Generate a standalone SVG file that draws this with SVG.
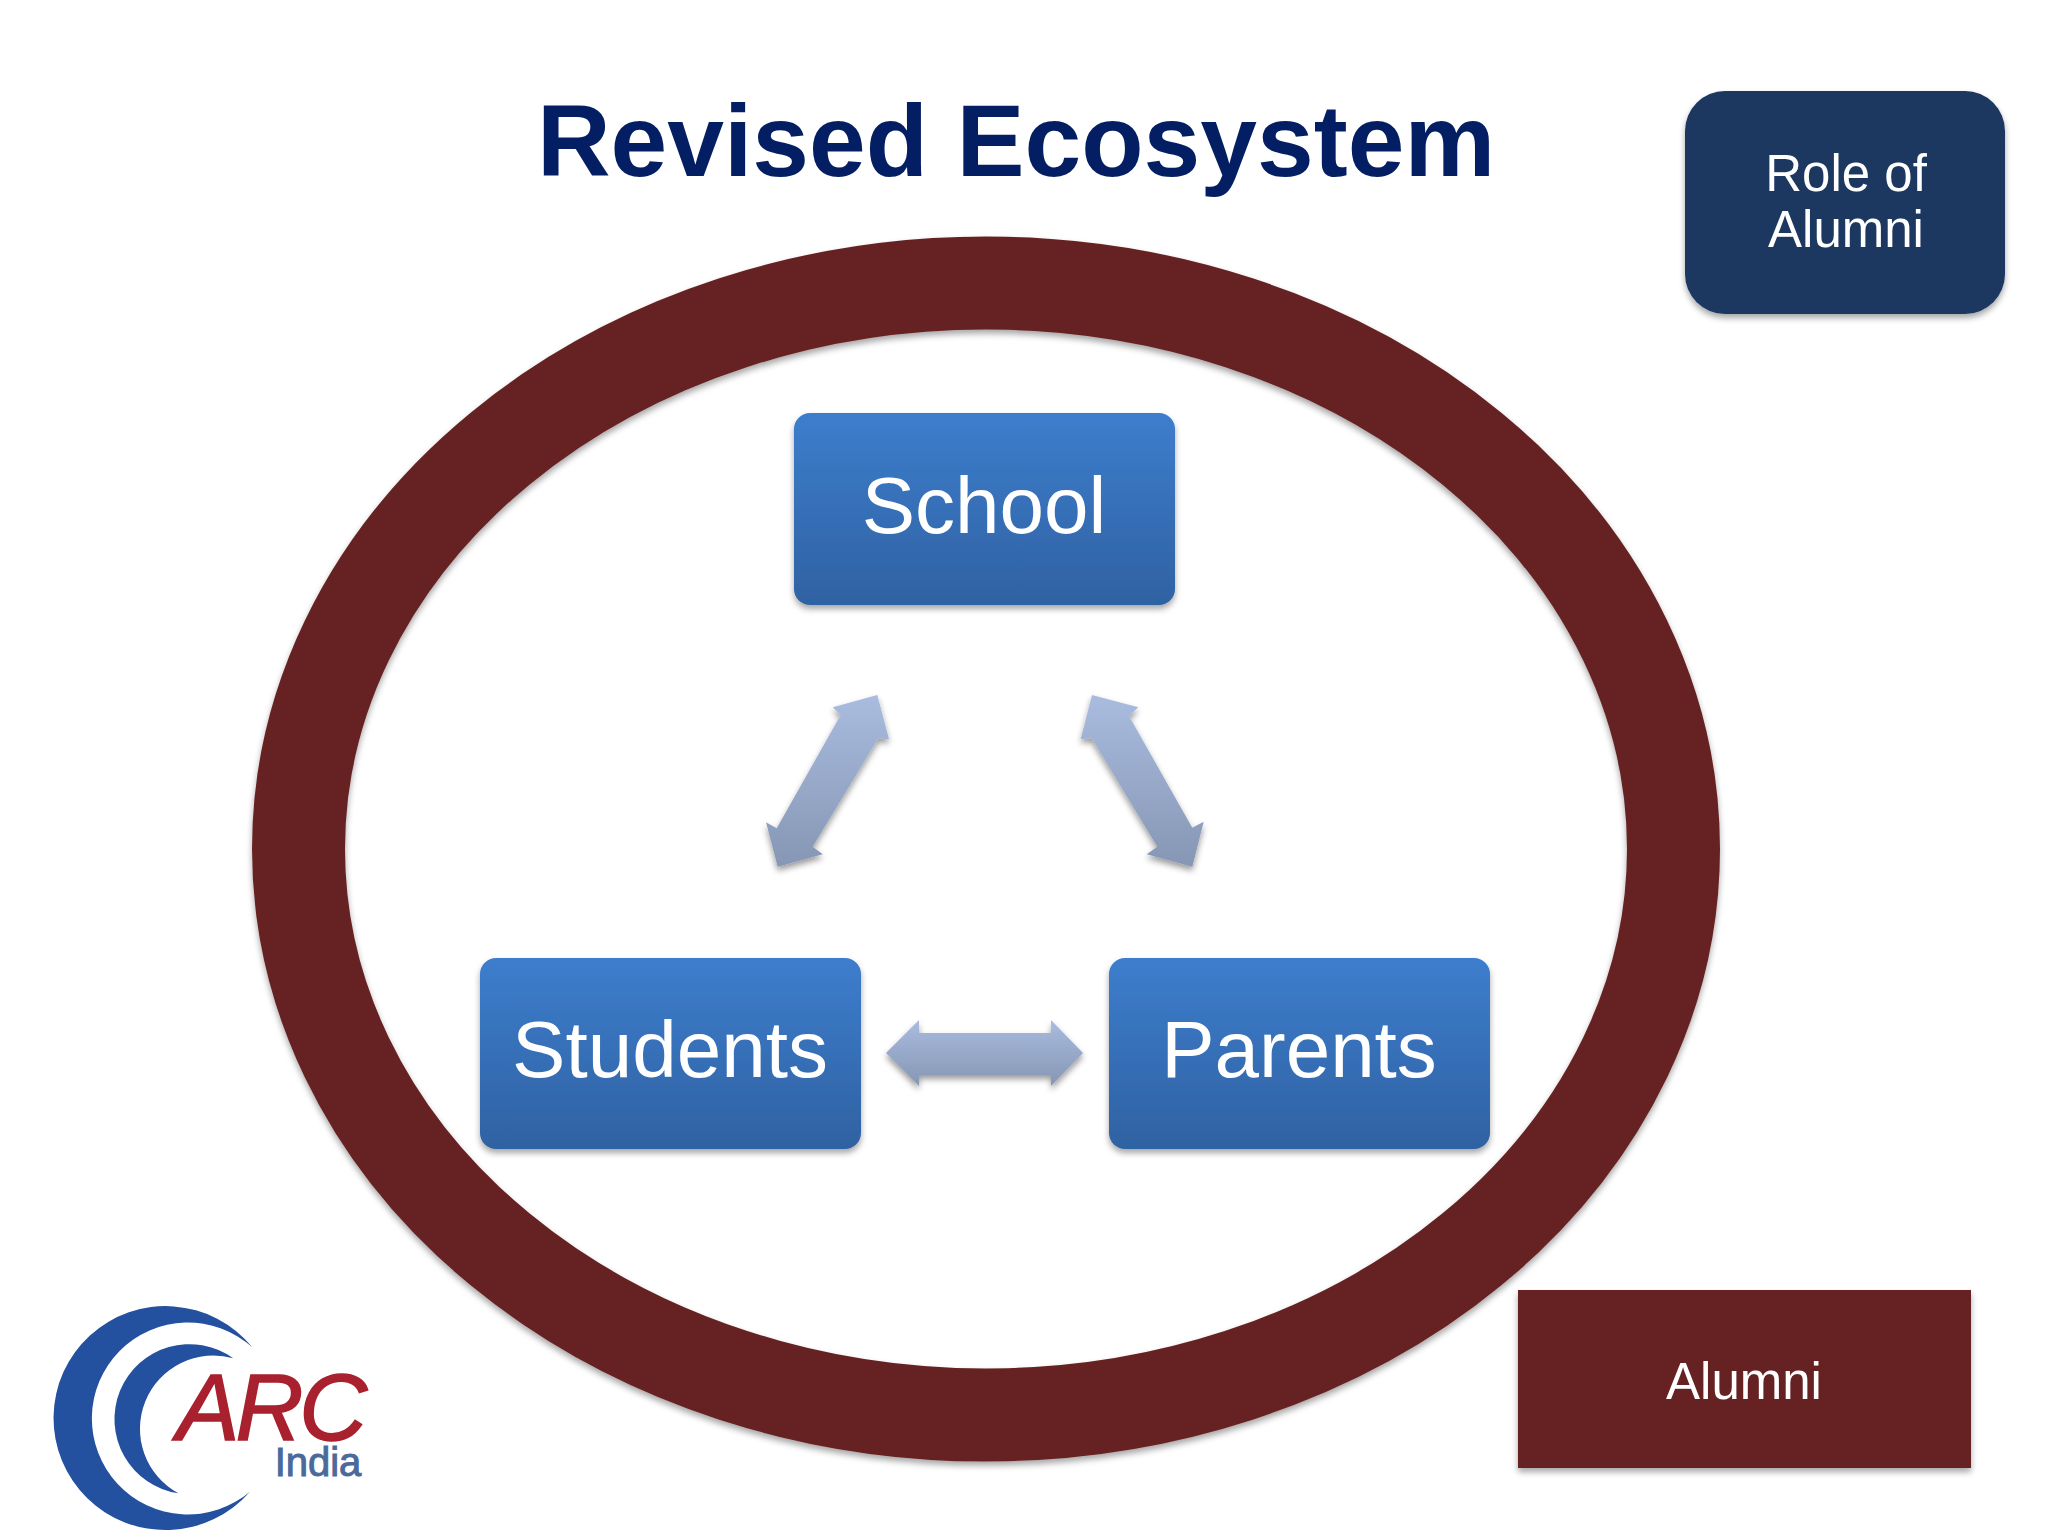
<svg xmlns="http://www.w3.org/2000/svg" width="2048" height="1536" viewBox="0 0 2048 1536">
<style>
text{font-family:"Liberation Sans",Arial,sans-serif;text-anchor:middle}
.big{font-size:80px;fill:#fff}
.small{font-size:51px;fill:#fff}
.box{fill:url(#blue);filter:url(#sh)}
.arr{filter:url(#sh2)}
</style>
<defs>
<linearGradient id="blue" x1="0" y1="0" x2="0" y2="1"><stop offset="0" stop-color="#3d7dcd"/><stop offset="1" stop-color="#2f62a2"/></linearGradient>
<linearGradient id="ag" x1="0" y1="0" x2="0" y2="1"><stop offset="0" stop-color="#a9bcdf"/><stop offset="1" stop-color="#8696b4"/></linearGradient>
<filter id="sh" x="-10%" y="-10%" width="120%" height="125%"><feDropShadow dx="0" dy="4" stdDeviation="3" flood-color="#000" flood-opacity=".35"/></filter>
<filter id="sh2" x="-20%" y="-20%" width="140%" height="140%"><feDropShadow dx="0" dy="4" stdDeviation="3" flood-color="#000" flood-opacity=".4"/></filter>
</defs>
<rect width="2048" height="1536" fill="#fff"/>
<text x="1016" y="176" font-weight="700" fill="#041e63" style="font-size:102px">Revised Ecosystem</text>
<g id="ring"><ellipse cx="986" cy="849" rx="687.5" ry="566" fill="none" stroke="#662424" stroke-width="93" filter="url(#sh)"/></g>
<g id="role"><rect x="1685" y="91" width="320" height="223" rx="40" fill="#1a3760" filter="url(#sh)"/>
<text class="small" x="1846" y="191">Role of</text><text class="small" x="1846" y="247">Alumni</text></g>
<g id="school"><rect class="box" x="794" y="413" width="381" height="192" rx="16"/><text class="big" x="984" y="533">School</text></g>
<g id="students"><rect class="box" x="480" y="958" width="381" height="191" rx="16"/><text class="big" x="670" y="1077">Students</text></g>
<g id="parents"><rect class="box" x="1109" y="958" width="381" height="191" rx="16"/><text class="big" x="1299" y="1077">Parents</text></g>
<g id="alumni"><rect x="1518" y="1290" width="453" height="178" fill="#662424" filter="url(#sh)"/><text class="small" x="1744" y="1399">Alumni</text></g>
<g id="connectors">
<polygon class="arr" fill="url(#ag)" points="877.3,695 832.7,707.3 840.7,715 776.7,828.3 766,822.3 777.7,866.7 822.7,854.3 812.7,846.7 878.3,738.3 889,739.3"/>
<polygon class="arr" fill="url(#ag)" points="1092,695 1138.3,707.3 1129,716 1192.3,827.7 1203.7,821.7 1192.3,866.7 1146.7,854.3 1157.3,846.7 1091.7,738.3 1080.7,739.3"/>
<polygon class="arr" fill="url(#ag)" points="886,1053 919,1020 919,1033 1051,1033 1051,1020 1083,1053 1051,1086 1051,1075 919,1075 919,1086"/>
</g>
<g id="logo">
<g transform="translate(0,1270) scale(.3333)" fill="#23509f">
<path d="M757 232A336 336 0 1 0 750 665A288 288 0 1 1 757 232Z"/>
<path d="M700 265A225 225 0 1 0 535 670A220 220 0 0 1 700 265Z"/>
</g>
<text x="270" y="1440" font-style="italic" fill="#a9212e" stroke="#a9212e" stroke-width="1.5" style="font-size:94px;letter-spacing:-4px">ARC</text>
<text x="318" y="1476" fill="#4a6a9c" stroke="#4a6a9c" stroke-width="1" style="font-size:40px">India</text>
</g>
</svg>
